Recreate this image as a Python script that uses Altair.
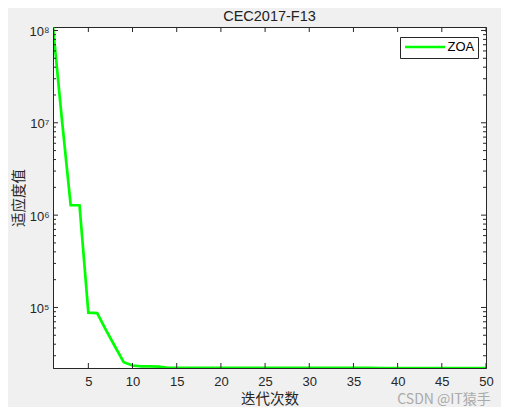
import altair as alt
import pandas as pd

# ---------------- data ----------------
ITERATIONS = list(range(1, 51))
ZOA_VALUES = [
    1.09e8, 1.1e7, 1.28e6, 1.28e6, 8.8e4, 8.7e4, 5.7e4, 3.8e4, 2.55e4, 2.35e4,
    2.30e4, 2.30e4, 2.29e4, 2.22e4, 2.215e4, 2.215e4, 2.215e4, 2.215e4, 2.215e4, 2.215e4,
    2.215e4, 2.215e4, 2.215e4, 2.215e4, 2.213e4, 2.213e4, 2.213e4, 2.213e4, 2.213e4, 2.213e4,
    2.213e4, 2.213e4, 2.213e4, 2.213e4, 2.213e4, 2.213e4, 2.213e4, 2.21e4, 2.21e4, 2.21e4,
    2.21e4, 2.21e4, 2.21e4, 2.21e4, 2.21e4, 2.21e4, 2.21e4, 2.21e4, 2.21e4, 2.21e4,
]
SERIES_NAME = "ZOA"
X_TICKS = [5, 10, 15, 20, 25, 30, 35, 40, 45, 50]
Y_MAJOR = [1e5, 1e6, 1e7, 1e8]
Y_MINOR = [3e4, 4e4, 5e4, 6e4, 7e4, 8e4, 9e4,
           2e5, 3e5, 4e5, 5e5, 6e5, 7e5, 8e5, 9e5,
           2e6, 3e6, 4e6, 5e6, 6e6, 7e6, 8e6, 9e6,
           2e7, 3e7, 4e7, 5e7, 6e7, 7e7, 8e7, 9e7]
X_DOMAIN = [1, 50]
Y_DOMAIN = [2.21e4, 1.09e8]
TITLE = "CEC2017-F13"
X_TITLE = "迭代次数"
Y_TITLE = "适应度值"
WATERMARK = "CSDN @IT猿手"

# ---------------- style ----------------
W, H = 433, 341
AX = "#262626"
NUM_FONT = "Liberation Sans"
CJK_FONT = "Noto Sans CJK SC"

df = pd.DataFrame({"iter": ITERATIONS, "val": ZOA_VALUES, "alg": [SERIES_NAME] * len(ITERATIONS)})
xs = alt.Scale(domain=X_DOMAIN, nice=False, zero=False)
ys = alt.Scale(type="log", domain=Y_DOMAIN, nice=False)

label_expr = ("datum.value == 1e5 ? '10⁵' : datum.value == 1e6 ? '10⁶' : "
              "datum.value == 1e7 ? '10⁷' : datum.value == 1e8 ? '10⁸' : ''")

x_axis = alt.Axis(values=X_TICKS, ticks=False, grid=False, domain=True, domainColor=AX,
                  labelFont=NUM_FONT, labelFontSize=13, labelColor=AX, labelPadding=7,
                  labelFlush=False,
                  title=X_TITLE, titleFont=CJK_FONT, titleFontSize=14.5, titleFontWeight="normal",
                  titleColor=AX, titleX=W / 2, titleY=31.5, titleAlign="center",
                  titleBaseline="middle", zindex=1)
y_axis = alt.Axis(values=Y_MAJOR, labelExpr=label_expr, ticks=False, grid=False, domain=True,
                  domainColor=AX, labelFont=NUM_FONT, labelFontSize=13, labelColor=AX,
                  labelPadding=4, labelOffset=1, title=Y_TITLE, titleFont=CJK_FONT,
                  titleFontSize=14.5, titleFontWeight="normal", titleColor=AX, titleX=-33.5,
                  titleY=H / 2, titleAlign="center", titleBaseline="middle", zindex=1)

line = alt.Chart(df).mark_line(strokeWidth=2.7, clip=True).encode(
    x=alt.X("iter:Q", scale=xs, axis=x_axis),
    y=alt.Y("val:Q", scale=ys, axis=y_axis),
    color=alt.Color("alg:N", scale=alt.Scale(domain=[SERIES_NAME], range=["#00ff00"]),
                    legend=alt.Legend(title=None, orient="none", legendX=347, legendY=10,
                                      symbolType="M-1,0H7", symbolSize=100,
                                      symbolStrokeWidth=2.7, labelFont=NUM_FONT,
                                      labelFontSize=13, labelColor="#000",
                                      strokeColor=AX, fillColor="white", padding=3.5,
                                      labelOffset=31, cornerRadius=0)),
)

ymaj = pd.DataFrame({"v": Y_MAJOR})
ymin = pd.DataFrame({"v": Y_MINOR})
xt = pd.DataFrame({"iter": X_TICKS})

def yticks(data, x0, x1):
    return alt.Chart(data).mark_rule(color=AX, strokeWidth=1).encode(
        y=alt.Y("v:Q", scale=ys, axis=y_axis), x=alt.value(x0), x2=alt.value(x1))

def xticks(y0, y1):
    return alt.Chart(xt).mark_rule(color=AX, strokeWidth=1).encode(
        x=alt.X("iter:Q", scale=xs, axis=x_axis), y=alt.value(y0), y2=alt.value(y1))

wm = alt.Chart(pd.DataFrame({"t": [WATERMARK]})).mark_text(
    font=CJK_FONT, fontSize=14, color="#aaaaaa", align="center", baseline="middle"
).encode(text="t:N", x=alt.value(391), y=alt.value(373))

chart = alt.layer(
    line,
    yticks(ymaj, 0, 5), yticks(ymin, 0, 3), yticks(ymaj, W, W - 5), yticks(ymin, W, W - 3),
    xticks(H, H - 5), xticks(0, 5),
    wm,
).properties(
    width=W, height=H,
    title=alt.Title(TITLE, font=NUM_FONT, fontSize=14.5, fontWeight=400, color="#222222",
                    anchor="middle", offset=4, dy=3),
    autosize=alt.AutoSizeParams(type="none"),
    padding={"left": 45, "top": 19, "right": 15, "bottom": 39},
).configure(background="#f0f0f0").configure_view(fill="white", stroke=AX, strokeWidth=1)

chart.save("out.html", embed_options={"renderer": "svg", "actions": False})
